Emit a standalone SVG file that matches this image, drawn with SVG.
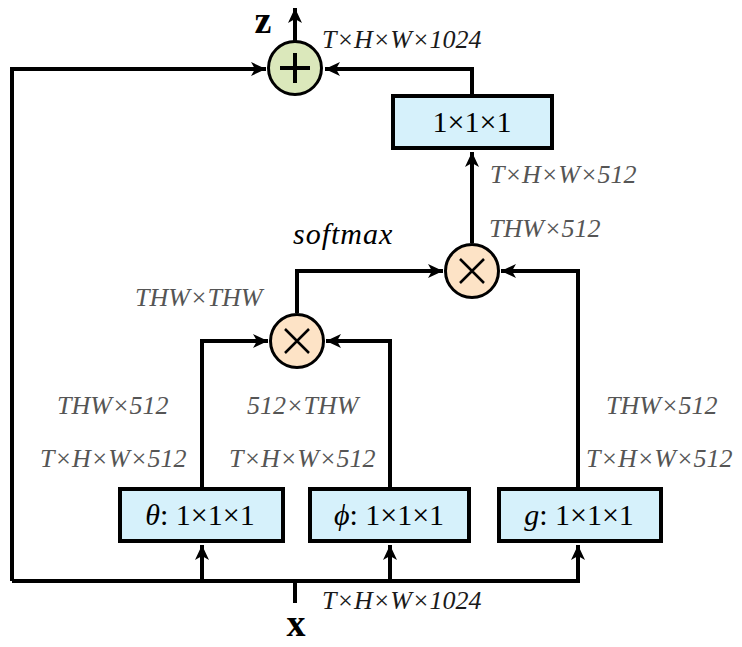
<svg xmlns="http://www.w3.org/2000/svg" width="742" height="647" viewBox="0 0 742 647">
<defs>
<marker id="ah" markerUnits="userSpaceOnUse" markerWidth="16" markerHeight="14" refX="15" refY="7" orient="auto">
<path d="M0,0 L15,7 L0,14 L4,7 z" fill="#000"/>
</marker>
<style>
.edge{fill:none;stroke:#000;stroke-width:4;}
.box{fill:#d6f1fb;stroke:#000;stroke-width:4;}
.mul{fill:#fde3c6;stroke:#000;stroke-width:3;}
.add{fill:#dbe8bb;stroke:#000;stroke-width:3;}
.sym{stroke:#000;fill:none;}
.bt{font-size:30px;fill:#000;text-anchor:middle;}
.lbl{font-style:italic;font-size:26px;fill:#555;}
.dk{fill:#1a1a1a;}
.io{font-weight:bold;font-size:38px;fill:#000;text-anchor:middle;}
</style>
</defs>
<rect width="742" height="647" fill="#fff"/>
<g id="connectors">
<path class="edge" d="M295,581 V603"/>
<path class="edge" d="M12,581 H580"/>
<path class="edge" d="M12,581 V69 H266" marker-end="url(#ah)"/>
<path class="edge" d="M202,581 V545" marker-end="url(#ah)"/>
<path class="edge" d="M390,581 V545" marker-end="url(#ah)"/>
<path class="edge" d="M578,581 V545" marker-end="url(#ah)"/>
<path class="edge" d="M202,487 V341 H268" marker-end="url(#ah)"/>
<path class="edge" d="M390,487 V341 H326" marker-end="url(#ah)"/>
<path class="edge" d="M297,313 V271 H443" marker-end="url(#ah)"/>
<path class="edge" d="M578,487 V271 H501" marker-end="url(#ah)"/>
<path class="edge" d="M472,243 V152" marker-end="url(#ah)"/>
<path class="edge" d="M472,95 V69 H325" marker-end="url(#ah)"/>
<path class="edge" d="M295,41 V8" marker-end="url(#ah)"/>
</g>
<g id="add">
<circle class="add" cx="295" cy="68" r="26.5"/>
<path class="sym" stroke-width="4" d="M280,68 H310 M295,53 V83"/>
</g>
<g font-family="'Liberation Serif', 'Times New Roman', Times, 'DejaVu Serif', serif">
<g id="conv_out">
<rect class="box" x="393" y="96" width="159" height="52"/>
<text class="bt" x="472" y="132">1×1×1</text>
</g>
<g id="mul2">
<circle class="mul" cx="472" cy="271" r="26.5"/>
<path class="sym" stroke-width="2.5" d="M460,259 L484,283 M484,259 L460,283"/>
</g>
<g id="mul1">
<circle class="mul" cx="297" cy="341" r="26.5"/>
<path class="sym" stroke-width="2.5" d="M285,329 L309,353 M309,329 L285,353"/>
</g>
<g id="theta">
<rect class="box" x="120" y="489" width="163" height="52"/>
<text class="bt" x="200" y="525"><tspan font-style="italic">θ</tspan>: 1×1×1</text>
</g>
<g id="phi">
<rect class="box" x="310" y="489" width="159" height="52"/>
<text class="bt" x="389" y="525"><tspan font-style="italic">ϕ</tspan>: 1×1×1</text>
</g>
<g id="g">
<rect class="box" x="499" y="489" width="162" height="52"/>
<text class="bt" x="579" y="525"><tspan font-style="italic">g</tspan>: 1×1×1</text>
</g>
<g id="labels">
<text class="io" x="263" y="33">z</text>
<text class="io" x="296" y="636">x</text>
<text class="lbl dk" x="322" y="48">T×H×W×1024</text>
<text class="lbl dk" x="322" y="609">T×H×W×1024</text>
<text class="lbl" x="490" y="183">T×H×W×512</text>
<text class="lbl" x="489" y="237">THW×512</text>
<text class="lbl" x="293" y="244" style="fill:#000;font-size:30px;letter-spacing:1px">softmax</text>
<text class="lbl" x="135" y="306">THW×THW</text>
<text class="lbl" x="57" y="414">THW×512</text>
<text class="lbl" x="40" y="467">T×H×W×512</text>
<text class="lbl" x="247" y="414">512×THW</text>
<text class="lbl" x="229" y="467">T×H×W×512</text>
<text class="lbl" x="606" y="414">THW×512</text>
<text class="lbl" x="586" y="467">T×H×W×512</text>
</g>
</g>
</svg>
